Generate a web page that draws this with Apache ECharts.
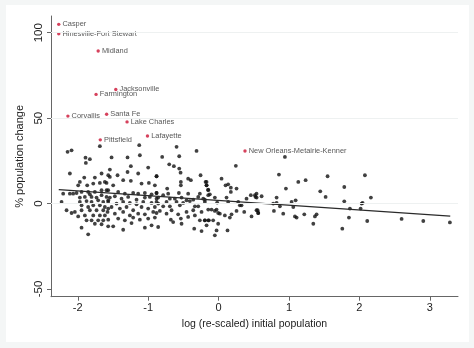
<!DOCTYPE html>
<html>
<head>
<meta charset="utf-8">
<script src="https://cdn.jsdelivr.net/npm/echarts@6/dist/echarts.min.js"></script>
<style>
html,body{margin:0;padding:0;background:#f4f6f6;}
#chart{width:474px;height:348px;}
</style>
</head>
<body>
<div id="chart"></div>
<script>
// Labelled outliers (red)
var cityNames = ["Casper","Hinesville-Fort Stewart","Midland","Jacksonville","Farmington","Corvallis","Santa Fe","Lake Charles","Lafayette","Pittsfield","New Orleans-Metairie-Kenner"];
var cityX = [-2.27,-2.27,-1.71,-1.46,-1.74,-2.14,-1.59,-1.30,-1.01,-1.68,0.375];
var cityY = [104.9,99.4,89.3,66.8,63.9,51.2,52.3,47.8,39.6,37.3,30.8];

// Other metro areas (black)
var pointX = [
-2.145,-2.088,-1.89,-1.828,-1.885,-1.686,-2.112,-1.908,-1.97,-1.757,-1.662,-1.567,-1.994,-1.866,-1.78,-1.686,-1.615,
-2.207,-2.112,-2.065,-2.017,-1.946,-1.852,-1.828,-1.757,-1.662,-1.591,-2.23,-1.97,-1.899,-1.804,-1.733,-1.662,-1.591,
-1.97,-1.875,-1.804,-1.71,-1.638,-1.567,-2.159,-2.041,-1.946,-1.852,-1.78,-1.686,-1.615,-1.946,-1.828,-1.733,-1.638,
-1.567,-2.088,-1.899,-1.78,-1.686,-1.615,-1.994,-1.875,-1.804,-1.71,-1.638,-1.567,-1.757,-1.662,-1.946,-1.852,
-1.127,-1.52,-1.293,-1.118,-1.246,-1.0,-1.544,-1.293,-1.142,-0.881,-1.435,-1.544,-1.355,-1.246,-1.094,-0.99,-1.591,
-1.497,-0.905,-1.568,-1.426,-1.331,-1.213,-1.142,-1.047,-0.952,-0.881,-1.544,-1.473,-1.378,-1.284,-1.165,-1.047,
-0.976,-0.881,-1.568,-1.449,-1.355,-1.26,-1.165,-1.07,-0.952,-0.857,-1.52,-1.402,-1.307,-1.213,-1.094,-1.0,-0.905,
-1.577,-1.473,-1.355,-1.26,-1.142,-1.047,-0.928,-1.426,-1.331,-1.213,-1.118,-1.0,-0.905,-1.568,-1.497,-1.355,-1.236,
-1.047,-0.952,
-0.597,-0.313,-0.801,-0.559,-0.701,-0.635,-0.559,-0.54,-0.881,-0.256,-0.536,-0.432,-0.394,-0.185,-0.171,-0.536,-0.73,
-0.147,-0.881,-0.787,-0.716,-0.564,-0.432,-0.266,-0.858,-0.692,-0.621,-0.526,-0.455,-0.36,-0.289,-0.218,-0.147,
-0.881,-0.739,-0.597,-0.503,-0.408,-0.195,-0.787,-0.692,-0.55,-0.337,-0.289,-0.834,-0.739,-0.668,-0.574,-0.455,-0.36,
-0.242,-0.147,-0.881,-0.678,-0.536,-0.432,-0.337,-0.266,-0.195,-0.147,-0.526,-0.645,-0.858,-0.346,-0.242,
0.245,0.042,0.099,0.136,0.174,0.174,0.255,-0.171,-0.171,-0.148,-0.124,-0.053,-0.195,-0.02,0.113,0.136,0.279,0.326,
0.397,0.458,0.539,0.525,-0.1,-0.053,-0.029,-0.006,0.018,0.089,0.16,0.184,0.255,0.302,0.364,0.468,0.539,0.563,-0.195,
-0.138,-0.077,-0.171,-0.029,-0.053,0.127,-0.006,
0.942,0.857,1.132,1.236,1.548,0.956,1.444,1.52,1.785,0.516,0.54,0.611,0.824,1.037,1.094,0.776,0.824,0.871,1.061,
1.785,1.865,0.554,0.563,0.786,0.918,1.084,1.108,1.217,1.368,1.392,1.345,1.851,1.757,
2.078,2.163,2.031,2.045,2.017,2.111,2.599,2.907,3.285
];
var pointY = [
30.3,31.2,26.9,26.0,23.8,33.6,17.6,15.2,12.7,15.2,17.6,16.6,10.7,10.7,11.7,12.1,12.7,
5.8,5.8,5.8,6.2,6.8,6.8,5.4,6.8,7.8,7.8,1.0,3.5,3.9,3.9,3.5,4.9,3.9,
1.0,1.5,1.0,1.9,1.0,1.9,-3.9,-4.9,-1.0,-2.0,-1.0,-1.0,-2.0,-3.9,-3.9,-3.9,-3.9,
-2.9,-5.5,-6.9,-6.9,-6.9,-6.9,-7.5,-9.8,-9.8,-9.8,-9.8,-9.4,-11.8,-12.1,-14.1,-18.0,
34.2,27.0,27.0,28.3,21.9,21.1,19.9,18.5,17.6,16.0,16.6,15.6,13.7,13.3,11.7,12.1,12.1,
10.7,10.7,7.8,6.8,5.8,6.2,5.8,6.2,5.4,6.2,3.5,4.3,2.9,3.9,2.3,3.5,
3.9,2.9,1.0,0.0,1.0,0.4,-0.4,1.0,0.4,0.0,-2.0,-2.9,-2.0,-3.9,-2.0,-2.9,-2.0,
-4.9,-5.9,-4.9,-6.9,-5.9,-6.3,-4.9,-8.8,-9.8,-8.2,-9.4,-8.8,-8.2,-13.3,-13.3,-15.3,-11.4,
-14.1,-12.7,
33.2,30.8,27.3,27.7,23.0,21.9,20.5,18.1,16.0,16.6,12.7,14.6,13.7,12.7,10.7,10.7,8.8,
7.8,6.2,4.9,5.8,6.2,5.8,5.8,3.5,2.9,2.9,3.5,1.9,2.3,3.9,2.9,4.9,
1.0,1.0,1.0,0.4,1.5,1.0,-1.6,-1.6,-1.0,-1.6,-1.6,-4.3,-5.9,-3.9,-6.3,-4.9,-3.9,
-4.9,-3.5,-5.5,-9.4,-8.8,-7.8,-6.9,-9.8,-9.8,-9.8,-11.8,-10.8,-13.7,-14.7,-16.1,
22.1,14.6,10.7,11.3,9.3,6.8,8.8,12.7,10.7,8.2,5.4,3.5,2.3,0.6,3.5,1.0,1.0,-1.0,
2.9,4.9,5.8,3.9,-3.5,-4.3,-3.5,-5.5,-5.9,-6.9,-8.2,-6.3,-4.3,-1.0,-4.9,-7.5,-3.9,-5.5,-9.8,
-9.8,-9.8,-12.7,-15.7,-18.6,-15.7,-11.8,
27.3,17.0,12.7,13.7,16.0,8.8,7.2,3.9,9.7,4.9,3.5,4.3,3.5,1.0,1.9,0.0,0.4,-1.6,-2.0,
1.3,-2.9,-3.9,-5.5,-4.3,-5.9,-7.5,-8.2,-6.3,-7.5,-6.3,-11.8,-8.2,-14.7,
16.6,3.5,0.0,0.4,-2.9,-10.2,-9.0,-10.2,-11.0
];

// Fitted regression line endpoints
var fitX = [-2.27, 3.29];
var fitY = [8.2, -7.3];

// Axis ticks
var xTicks = [-2, -1, 0, 1, 2, 3];
var yTicks = [-50, 0, 50, 100];
var gridLines = [0, 50, 100];

var chart = echarts.init(document.getElementById('chart'), null, {renderer: 'canvas'});
var FONT = "'Liberation Sans', Arial, sans-serif";

var black = pointX.map(function (x, i) { return [x, pointY[i]]; });
var red = cityX.map(function (x, i) { return {name: cityNames[i], value: [x, cityY[i]]}; });
var fit = fitX.map(function (x, i) { return [x, fitY[i]]; });

chart.setOption({
  backgroundColor: '#f4f6f6',
  animation: false,
  graphic: [{
    type: 'rect', z: -10, silent: true,
    shape: {x: 6, y: 5, width: 463, height: 337},
    style: {fill: '#ffffff'}
  }],
  grid: {left: 51, right: 16, top: 16, bottom: 51.3, containLabel: false},
  xAxis: {
    type: 'value', min: -2.38, max: 3.40,
    name: 'log (re-scaled) initial population',
    nameLocation: 'middle', nameGap: 19,
    nameTextStyle: {fontFamily: FONT, fontSize: 10.5, color: '#222'},
    axisLine: {show: true, onZero: false, lineStyle: {color: '#666', width: 1}},
    axisTick: {show: true, length: 4, customValues: xTicks, lineStyle: {color: '#666'}},
    axisLabel: {customValues: xTicks, margin: 6, fontFamily: FONT, fontSize: 11, color: '#222'},
    splitLine: {show: false}
  },
  yAxis: {
    type: 'value', min: -54.5, max: 109.8,
    name: '% population change',
    nameLocation: 'middle', nameGap: 26, nameRotate: 90,
    nameTextStyle: {fontFamily: FONT, fontSize: 11, color: '#222'},
    axisLine: {show: true, onZero: false, lineStyle: {color: '#666', width: 1}},
    axisTick: {show: true, length: 4, customValues: yTicks, lineStyle: {color: '#666'}},
    axisLabel: {customValues: yTicks, rotate: 90, margin: 6, fontFamily: FONT, fontSize: 11.5, color: '#222'},
    splitLine: {show: false}
  },
  series: [
    {
      type: 'line', data: [], silent: true,
      markLine: {
        silent: true, symbol: 'none', label: {show: false},
        lineStyle: {color: '#eef1f1', width: 1, type: 'solid'},
        data: gridLines.map(function (v) { return {yAxis: v}; })
      }
    },
    {
      type: 'scatter', data: black, symbol: 'circle', symbolSize: 3.8,
      itemStyle: {color: '#111'}
    },
    {
      type: 'line', data: fit, symbol: 'none', silent: true,
      lineStyle: {color: '#2a2a2a', width: 1.3}
    },
    {
      type: 'scatter', data: red, symbol: 'circle', symbolSize: 3.4,
      itemStyle: {color: '#cc1133'},
      label: {
        show: true, position: 'right', distance: 2,
        formatter: '{b}', fontFamily: FONT, fontSize: 7.4, color: '#2a2a2a'
      }
    }
  ]
});
</script>
</body>
</html>
